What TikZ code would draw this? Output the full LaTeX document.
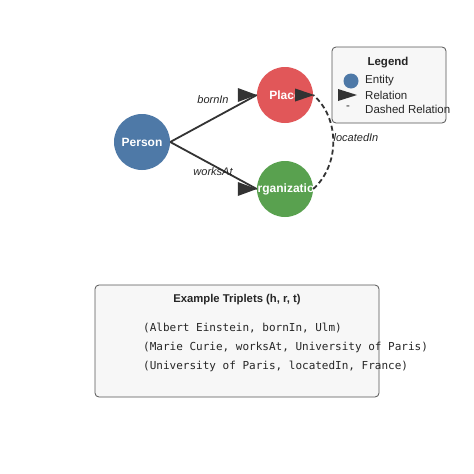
\documentclass[tikz,border=0pt]{standalone}
\usepackage{fontspec}
\setmainfont{Liberation Sans}
\setmonofont{DejaVu Sans Mono}
\definecolor{cblue}{HTML}{4E79A7}
\definecolor{cred}{HTML}{E15759}
\definecolor{cgreen}{HTML}{59A14F}
\definecolor{boxfill}{HTML}{F7F7F7}
\definecolor{boxedge}{HTML}{555555}
\definecolor{lineC}{HTML}{333333}
\begin{document}
\begin{tikzpicture}[x=1pt,y=-1pt,
  ent/.style={circle,minimum size=56pt,inner sep=0pt},
  enttext/.style={text=white,inner sep=0pt,font=\fontsize{12}{14}\selectfont\bfseries},
  rel/.style={draw=lineC,line width=1.8pt},
  tri/.style={fill=lineC},
  lbl/.style={font=\fontsize{11}{13}\selectfont\itshape,text=black!85},
  box/.style={draw=boxedge,fill=boxfill,rounded corners=4pt,line width=0.8pt},
  sans/.style={font=\fontsize{11.5}{13}\selectfont,text=black!85,inner sep=0pt},
  mono/.style={font=\fontsize{11}{13}\ttfamily,text=black!85,inner sep=0pt,anchor=west}]
\useasboundingbox[fill=white] (0,0) rectangle (474,474);
% entities
\node[ent,fill=cblue] (person) at (142,142) {};
\node[ent,fill=cred] (place) at (285,95) {};
\node[ent,fill=cgreen] (org) at (285,189) {};
\node[enttext] (persont) at (person) {Person};
\node[enttext] (placet) at (place) {Place};
\node[enttext] (orgt) at (org) {Organization};
% relations
\draw[rel] (person.east) -- (place.west);
\draw[rel] (person.east) -- (org.west);
\fill[tri,shift={(place.west)}] (-19,-7) -- (0,0) -- (-19,7) -- cycle;
\fill[tri,shift={(org.west)}] (-19,-7) -- (0,0) -- (-19,7) -- cycle;
\draw[draw=lineC,line width=1.8pt,dash pattern=on 5pt off 3pt] (org.east) .. controls (340,165) and (340,118) .. (place.east);
\fill[tri,shift={(place.east)}] (-18,-6.5) -- (1,0) -- (-18,6.5) -- cycle;
\node[lbl] (lb1) at (213,100) {bornIn};
\node[lbl] (lb2) at (213,172) {worksAt};
\node[lbl] (lb3) at (356,138) {locatedIn};
% legend
\node[box,minimum width=114pt,minimum height=76pt,inner sep=0pt] (legend) at (389,85) {};
\node[sans,font=\fontsize{11.5}{13}\selectfont\bfseries] (legt) at (388,63) {Legend};
\fill[cblue] (351,81) circle (7.5);
\node[sans,anchor=west] (le1) at (365,81) {Entity};
\fill[tri] (338,89) -- (357,95) -- (338,101) -- cycle;
\node[sans,anchor=west] (le2) at (365,95) {Relation};
\node[sans] (ledash) at (348,108) {-};
\node[sans,anchor=west] (le3) at (365,109) {Dashed Relation};
% example box
\node[box,minimum width=284pt,minimum height=112pt,inner sep=0pt] (ex) at (237,341) {};
\node[sans,font=\fontsize{11.3}{13}\selectfont\bfseries] (ext) at (237,299.5) {Example Triplets (h, r, t)};
\node[mono] (t1) at (143,328) {(Albert Einstein, bornIn, Ulm)};
\node[mono] (t2) at (143,347) {(Marie Curie, worksAt, University of Paris)};
\node[mono] (t3) at (143,366) {(University of Paris, locatedIn, France)};
\end{tikzpicture}
\end{document}
